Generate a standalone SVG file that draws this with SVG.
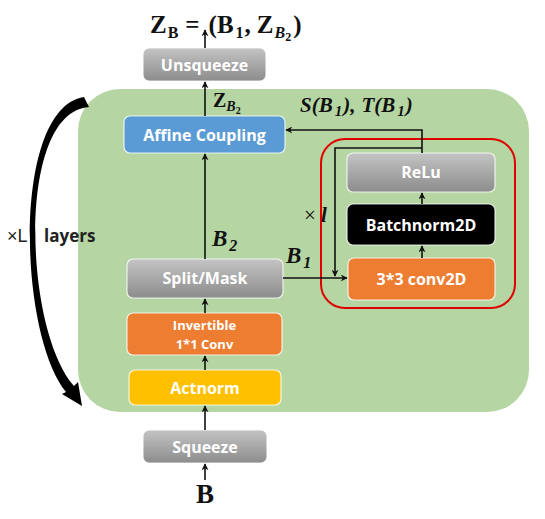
<svg xmlns="http://www.w3.org/2000/svg" width="545" height="519" viewBox="0 0 545 519">
<style>
.box{stroke:#ffffff;stroke-width:1.2;stroke-opacity:0.8}
.lbl{font-family:"Open Sans","Liberation Sans",Arial,sans-serif;font-weight:bold;fill:#ffffff;text-anchor:middle}
.math{font-family:"Liberation Serif","Times New Roman",serif;font-weight:bold;fill:#111111}
.conn{stroke:#111111;stroke-width:1.6;fill:none}
</style>
<defs>
<linearGradient id="gray" x1="0" y1="0" x2="0" y2="1">
<stop offset="0" stop-color="#c4c4c4"/>
<stop offset="1" stop-color="#8c8c8c"/>
</linearGradient>
<marker id="arr" viewBox="0 0 10 10" refX="9" refY="5" markerWidth="7" markerHeight="7" markerUnits="userSpaceOnUse" orient="auto">
<path d="M0,0 L10,5 L0,10 L3,5 Z" fill="#111111"/>
</marker>
</defs>
<rect width="545" height="519" fill="#ffffff"/>

<g id="block">
<rect x="78" y="89" width="451" height="323" rx="42" fill="#b5d5a3"/>
</g>
<g id="subnet">
<rect x="321" y="139" width="194" height="169" rx="24" fill="none" stroke="#e00000" stroke-width="2"/>
</g>

<g id="unsqueeze"><rect class="box" x="143" y="48" width="123" height="33" rx="6" fill="url(#gray)"/><text class="lbl" x="204.5" y="70.5" font-size="16">Unsqueeze</text></g>
<g id="affine"><rect class="box" x="124" y="116" width="161" height="37" rx="6" fill="#5b9bd5"/><text class="lbl" x="204.5" y="140.5" font-size="16">Affine Coupling</text></g>
<g id="split"><rect class="box" x="127" y="259" width="156" height="39" rx="6" fill="url(#gray)"/><text class="lbl" x="205" y="284" font-size="16">Split/Mask</text></g>
<g id="invconv"><rect class="box" x="127" y="313" width="155" height="42" rx="6" fill="#ed7d31"/><text class="lbl" x="204.5" y="330" font-size="13">Invertible</text><text class="lbl" x="204.5" y="349" font-size="13">1*1 Conv</text></g>
<g id="actnorm"><rect class="box" x="129" y="370" width="152" height="35" rx="6" fill="#ffc000"/><text class="lbl" x="205" y="393.5" font-size="16">Actnorm</text></g>
<g id="squeeze"><rect class="box" x="143" y="430" width="124" height="33" rx="6" fill="url(#gray)"/><text class="lbl" x="205" y="452.5" font-size="16">Squeeze</text></g>
<g id="relu"><rect class="box" x="347" y="153" width="148" height="39" rx="6" fill="url(#gray)"/><text class="lbl" x="421" y="178" font-size="16">ReLu</text></g>
<g id="batchnorm"><rect class="box" x="347" y="204" width="148" height="41" rx="6" fill="#000000"/><text class="lbl" x="421" y="230.5" font-size="16">Batchnorm2D</text></g>
<g id="conv2d"><rect class="box" x="348" y="258" width="147" height="42" rx="6" fill="#ed7d31"/><text class="lbl" x="421.5" y="285" font-size="16">3*3 conv2D</text></g>

<g id="connectors">
<line class="conn" x1="205" y1="480" x2="205" y2="464" marker-end="url(#arr)"/>
<line class="conn" x1="205" y1="430" x2="205" y2="406" marker-end="url(#arr)"/>
<line class="conn" x1="205" y1="370" x2="205" y2="356" marker-end="url(#arr)"/>
<line class="conn" x1="205" y1="313" x2="205" y2="299" marker-end="url(#arr)"/>
<line class="conn" x1="205" y1="259" x2="205" y2="154" marker-end="url(#arr)"/>
<line class="conn" x1="205" y1="116" x2="205" y2="82" marker-end="url(#arr)"/>
<line class="conn" x1="205" y1="48" x2="205" y2="30" marker-end="url(#arr)"/>
<line class="conn" x1="283" y1="278" x2="347" y2="278" marker-end="url(#arr)"/>
<line class="conn" x1="422" y1="258" x2="422" y2="246" marker-end="url(#arr)"/>
<line class="conn" x1="422" y1="204" x2="422" y2="193" marker-end="url(#arr)"/>
<polyline class="conn" points="422,153 422,130 286,130" marker-end="url(#arr)"/>
<polyline class="conn" points="422,148 335,148 335,276" marker-end="url(#arr)"/>
<path d="M 84 97 C 12 108, 18 333, 66 392 L 62 394 L 82 406 L 78 382 L 74 386 C 24 330, 16 112, 89 107 Z" fill="#000000"/>
</g>

<g id="labels">
<text class="math" x="150" y="33" font-size="25">Z<tspan font-size="16" dy="5" dx="1">B</tspan><tspan dy="-5" dx="7">=</tspan><tspan dx="9">(B</tspan><tspan font-size="16" dy="5" dx="2">1</tspan><tspan dy="-5" dx="1">,</tspan><tspan dx="6">Z</tspan><tspan font-size="16" dy="5" dx="1" font-style="italic">B</tspan><tspan font-size="12" dy="3">2</tspan><tspan dy="-8" dx="2">)</tspan></text>
<text class="math" x="213" y="107" font-size="20">Z<tspan font-size="14" dy="4" font-style="italic">B</tspan><tspan font-size="10" dy="3">2</tspan></text>
<text class="math" x="300" y="112" font-size="21" font-style="italic">S(B<tspan font-size="15" dy="4" dx="2">1</tspan><tspan dy="-4" dx="1">),</tspan><tspan dx="6">T(B</tspan><tspan font-size="15" dy="4" dx="2">1</tspan><tspan dy="-4" dx="1">)</tspan></text>
<text class="math" x="212" y="246" font-size="23" font-style="italic">B<tspan font-size="16" dy="5" dx="2">2</tspan></text>
<text class="math" x="286" y="263" font-size="23" font-style="italic">B<tspan font-size="16" dy="5" dx="2">1</tspan></text>
<text x="304" y="222" font-size="21" font-family="Liberation Serif,serif" fill="#111111">× <tspan font-style="italic" font-weight="bold">l</tspan></text>
<text x="7" y="242" font-size="18" font-family="Liberation Sans,Arial,sans-serif" fill="#222222">×L</text>
<text x="44" y="242" font-size="17" font-weight="bold" font-family="Open Sans,Liberation Sans,Arial,sans-serif" fill="#222222">layers</text>
<text class="math" x="205" y="503" font-size="27" text-anchor="middle">B</text>
</g>
</svg>
